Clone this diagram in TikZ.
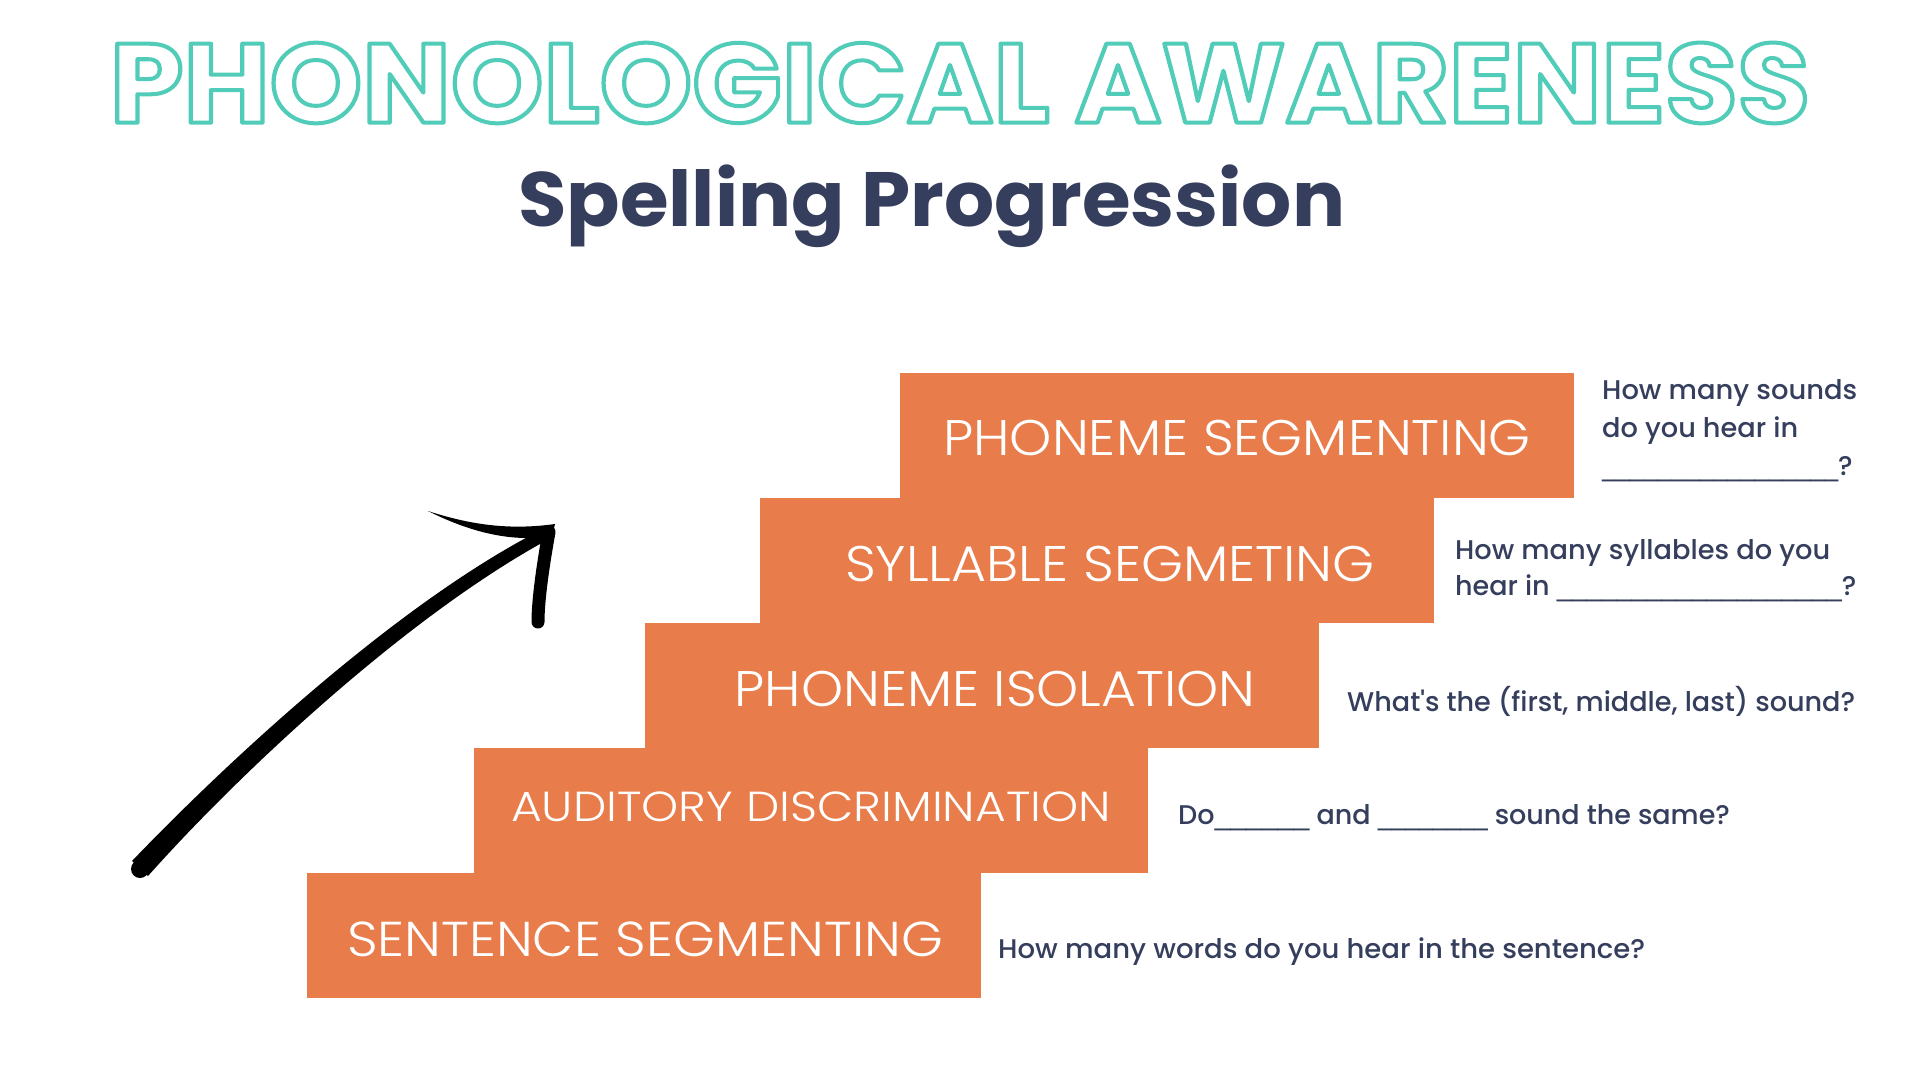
\documentclass[tikz,border=0pt]{standalone}
\usepackage{fontspec}
\usepackage{graphicx}
\setmainfont{Poppins}
\newfontfamily\plight{Poppins Light}
\newfontfamily\pmed{Poppins Medium}
\newfontfamily\usfont{DejaVu Sans}
\definecolor{boxorange}{RGB}{232,124,74}
\definecolor{titleteal}{RGB}{80,204,184}
\definecolor{navy}{RGB}{53,62,92}
\newsavebox\fitbox
\newcommand\fitx[2]{\sbox\fitbox{#2}\edef\fitfac{\fpeval{(#1)/(\the\wd\fitbox)}}\scalebox{\fitfac}[1]{\usebox\fitbox}}
\newcommand\outlinetext[1]{\special{pdf:literal direct 1 Tr 4 w 1 j}#1\special{pdf:literal direct 0 Tr}}
% a run of underscores stretched to a given width
\newcommand\blankrun[2]{\fitx{#1}{\usfont\foreach \k in {1,...,#2}{\_}}}
\tikzset{
  stepbox/.style={fill=boxorange, inner sep=0pt, minimum width=674pt, minimum height=125pt},
  steplabel/.style={inner sep=0pt, text=white, font=\plight\fontsize{50}{50}\selectfont},
  qtext/.style={inner sep=0pt, anchor=base west, text=navy, font=\pmed\fontsize{27}{30}\selectfont}
}
\begin{document}
\begin{tikzpicture}[x=1pt,y=-1pt]
\fill[white] (0,0) rectangle (1920,1080);
\useasboundingbox (0,0) rectangle (1920,1080);
% title
\node[inner sep=0pt, text=titleteal] (title) at (960,83)
  {\outlinetext{\resizebox{1700pt}{80pt}{\fontsize{112}{112}\selectfont\bfseries PHONOLOGICAL AWARENESS}}};
\node[inner sep=0pt, anchor=base west, text=navy] (sub) at (518,226)
  {\fontsize{77}{80}\selectfont\bfseries\fitx{827pt}{Spelling Progression}};
% steps
\node[stepbox] (b5) at (1237,435.5) {};
\node[stepbox] (b4) at (1097,560.5) {};
\node[stepbox] (b3) at (982,685.5) {};
\node[stepbox] (b2) at (811,810.5) {};
\node[stepbox] (b1) at (644,935.5) {};
\node[steplabel] (l5) at (1237,438) {\fitx{588pt}{PHONEME SEGMENTING}};
\node[steplabel] (l4) at (1110,564) {\fitx{530pt}{SYLLABLE SEGMETING}};
\node[steplabel] (l3) at (995,689) {\fitx{521pt}{PHONEME ISOLATION}};
\node[steplabel, font=\plight\fontsize{42}{42}\selectfont] (l2) at (811,807) {\fitx{600pt}{AUDITORY DISCRIMINATION}};
\node[steplabel, font=\plight\fontsize{49}{49}\selectfont] (l1) at (645,939) {\fitx{596pt}{SENTENCE SEGMENTING}};
% questions
\node[qtext] (q5a) at (1602,399) {\fitx{255pt}{How many sounds}};
\node[qtext] (q5b) at (1602,437) {\fitx{196pt}{do you hear in}};
\node[qtext] (q5c) at (1602,475) {\blankrun{236pt}{17}?};
\node[qtext] (q4a) at (1455,559) {\fitx{375pt}{How many syllables do you}};
\node[qtext] (q4b) at (1455,595) {hear in \blankrun{285pt}{19}?};
\node[qtext] (q3) at (1347,711) {\fitx{508pt}{What\symbol{39}s the (first, middle, last) sound?}};
\node[qtext] (q2) at (1178,824) {Do\blankrun{95pt}{6} and \blankrun{110pt}{8} sound the same?};
\node[qtext] (q1) at (998,958) {\fitx{647pt}{How many words do you hear in the sentence?}};
% hand-drawn arrow
\fill[black] (132,861) .. controls (225,764) and (396,604) .. (541,530) -- (549,539) .. controls (405,617) and (236,777) .. (148,876) -- cycle;
\fill[black] (140,869) circle (9);
\fill[black] (428,511) .. controls (465,523) and (505,531) .. (555,524) -- (552,536) .. controls (510,543) and (468,531) .. (428,511) -- cycle;
\draw[black, line width=13pt, line cap=round] (549,532) .. controls (543,565) and (538,600) .. (538,622);
\end{tikzpicture}
\end{document}
